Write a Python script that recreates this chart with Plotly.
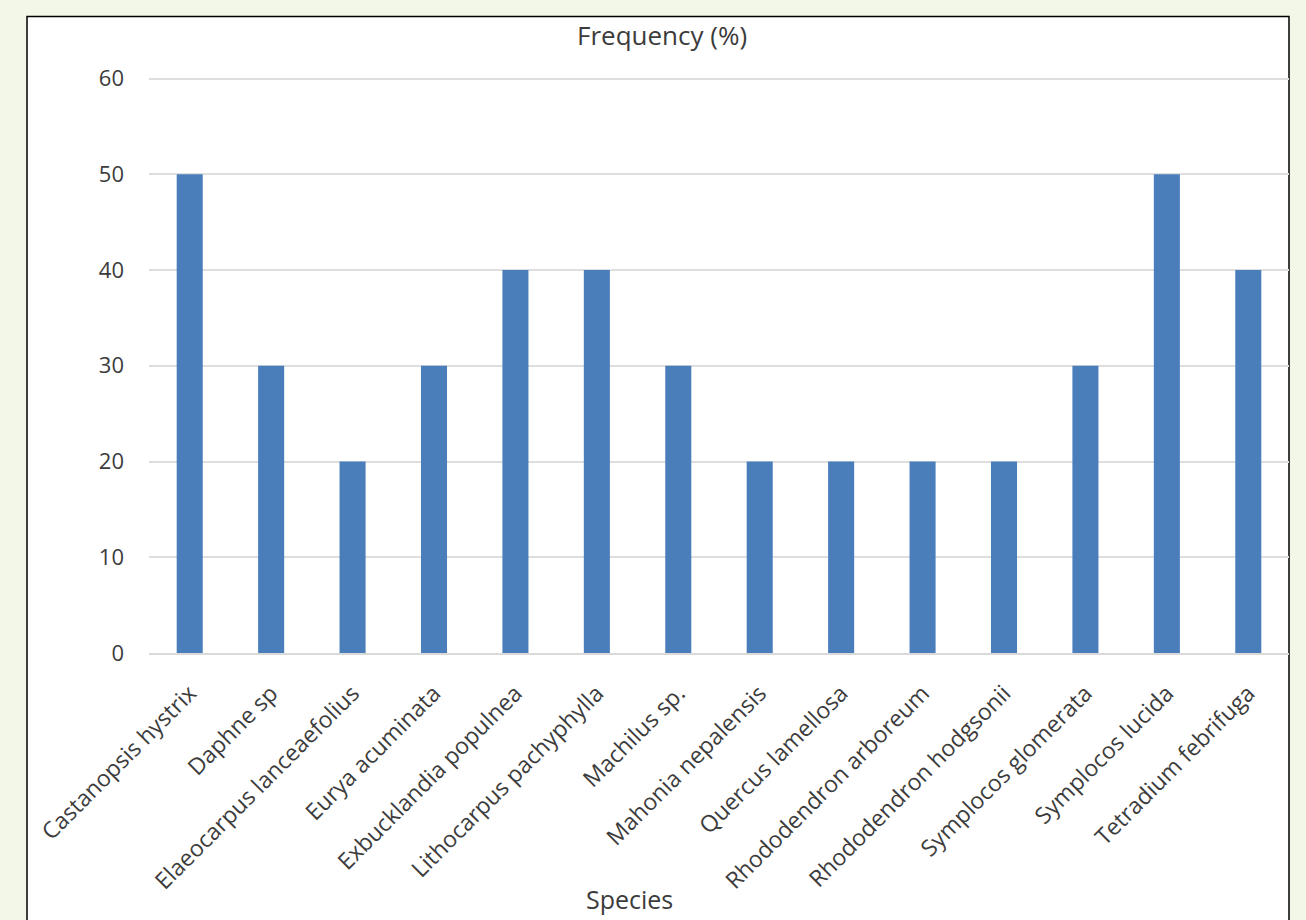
import plotly.graph_objects as go

species = [
    "Castanopsis hystrix", "Daphne sp", "Elaeocarpus lanceaefolius", "Eurya acuminata",
    "Exbucklandia populnea", "Lithocarpus pachyphylla", "Machilus sp.", "Mahonia nepalensis",
    "Quercus lamellosa", "Rhododendron arboreum", "Rhododendron hodgsonii", "Symplocos glomerata",
    "Symplocos lucida", "Tetradium febrifuga",
]
frequency = [50, 30, 20, 30, 40, 40, 30, 20, 20, 20, 20, 30, 50, 40]
y_ticks = [0, 10, 20, 30, 40, 50, 60]

W, H = 1306, 920
Y_MAX = 61
L, R, B = 149, 1289, 653          # plot area in pixels
UNIT = (653 - 79) / 60.0           # pixels per 1 %
T = B - Y_MAX * UNIT

def px(x):
    return (x - L) / (R - L)

def py(y):
    return (B - y) / (B - T)

FONT = "Open Sans"
TXT = "#3c3c3c"
BG = "#f3f7e7"

fig = go.Figure(
    go.Bar(
        x=species,
        y=frequency,
        width=0.32,
        marker=dict(color="#4a7ebb", line=dict(width=0)),
    )
)

fig.update_layout(
    width=W,
    height=H,
    margin=dict(l=L, r=W - R, t=T, b=H - B, pad=0),
    paper_bgcolor=BG,
    plot_bgcolor="white",
    showlegend=False,
    font=dict(family=FONT, size=20, color=TXT),
    shapes=[
        dict(
            type="rect", xref="paper", yref="paper",
            x0=px(27), x1=px(1289), y0=py(940), y1=py(17),
            fillcolor="white", line=dict(color="black", width=1.5), layer="below",
        )
    ],
    annotations=[
        dict(text="Frequency (%)", x=px(662), y=py(35), xref="paper", yref="paper",
             showarrow=False, xanchor="center", yanchor="middle",
             font=dict(family=FONT, size=26, color=TXT)),
        dict(text="Species", x=px(629), y=py(918), xref="paper", yref="paper",
             showarrow=False, xanchor="center", yanchor="bottom",
             font=dict(family=FONT, size=25, color=TXT)),
    ],
)

fig.update_xaxes(
    tickangle=-45,
    tickfont=dict(family=FONT, size=23, color=TXT),
    showgrid=False,
    showline=True,
    linecolor="#d9d9d9",
    linewidth=1.5,
    ticks="",
    ticklabelstandoff=16,
)
fig.update_yaxes(
    range=[0, Y_MAX],
    tickvals=y_ticks,
    tickfont=dict(family=FONT, size=22, color=TXT),
    showgrid=True,
    gridcolor="#dedede",
    gridwidth=1.5,
    zeroline=False,
    showline=False,
    ticks="",
    ticklabelstandoff=24,
)

fig.write_html(
    "out.html",
    config={"displayModeBar": False},
    post_script="document.body.style.margin='0';document.body.style.background='" + BG + "';",
)
